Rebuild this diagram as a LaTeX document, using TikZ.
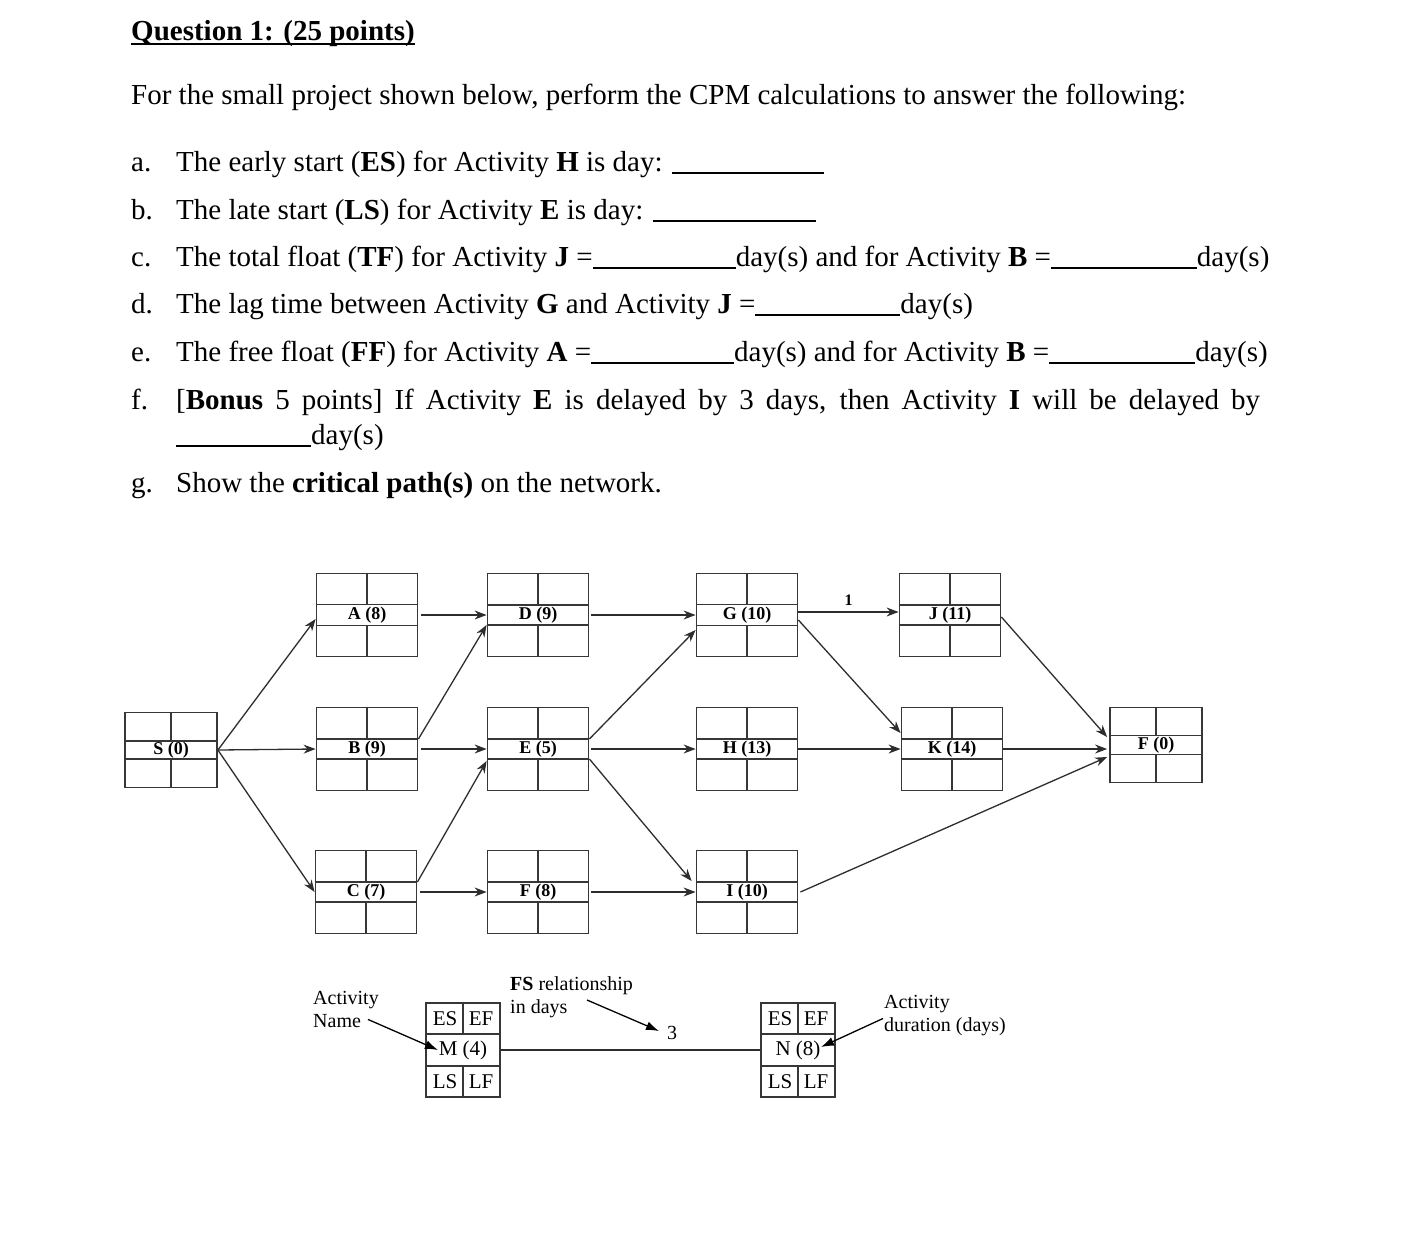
\documentclass[tikz,border=0pt]{standalone}
\usepackage{fontspec}
\setmainfont{Liberation Serif}
\usetikzlibrary{positioning,calc,arrows.meta}
\definecolor{BoxGray}{RGB}{55,55,55}
\definecolor{LineGray}{RGB}{45,45,45}
\newcommand{\qfont}{\fontsize{29}{35}\selectfont}
\newcommand{\ansline}[1]{\rule[-3pt]{#1pt}{1.8pt}}
\tikzset{
	act/.style={draw=BoxGray,line width=1.8pt,minimum width=101pt,minimum height=83pt,
		inner sep=0pt,font=\fontsize{18}{20}\selectfont\bfseries},
	term/.style={act,minimum width=92pt,minimum height=75pt},
	key/.style={draw=BoxGray,line width=1.5pt,minimum width=74pt,minimum height=94pt,
		inner sep=0pt,font=\fontsize{21}{24}\selectfont},
	cell/.style={draw=BoxGray,line width=1.6pt},
	cellt/.style={inner sep=0pt,font=\fontsize{21}{24}\selectfont},
	link/.style={draw=LineGray,line width=1.3pt,-{Stealth[length=12pt,width=9pt]}},
	pointer/.style={draw=black,line width=1.3pt,-{Latex[length=13pt,width=9pt]}},
	note/.style={font=\fontsize{20}{23}\selectfont,align=left,inner sep=0pt},
	item/.style={anchor=base west,inner sep=0pt,font=\qfont},
}

\begin{document}
\begin{tikzpicture}[x=1pt,y=-1pt]
	\useasboundingbox (0,0) rectangle (1413,1232);
	% question text
	\node[item,font=\qfont\bfseries] (title) at (131,40) {Question 1: (25 points)};
	\draw[line width=2pt] ([yshift=-4pt]title.base west) -- ([yshift=-4pt]title.base east);
	\node[item] (intro) at (131,104) {For the small project shown below, perform the CPM calculations to answer the following:};
	\node[item] (qa) at (131,171) {\makebox[45pt][l]{a.}The early start (\textbf{ES}) for Activity \textbf{H} is day: \ansline{152}};
	\node[item] (qb) at (131,219) {\makebox[45pt][l]{b.}The late start (\textbf{LS}) for Activity \textbf{E} is day: \ansline{163}};
	\node[item] (qc) at (131,266) {\makebox[45pt][l]{c.}The total float (\textbf{TF}) for Activity \textbf{J} =\ansline{143}day(s) and for Activity \textbf{B} =\ansline{146}day(s)};
	\node[item] (qd) at (131,313) {\makebox[45pt][l]{d.}The lag time between Activity \textbf{G} and Activity \textbf{J} =\ansline{145}day(s)};
	\node[item] (qe) at (131,361) {\makebox[45pt][l]{e.}The free float (\textbf{FF}) for Activity \textbf{A} =\ansline{143}day(s) and for Activity \textbf{B} =\ansline{146}day(s)};
	\node[item] (qf) at (131,409) {\makebox[45pt][l]{f.}\makebox[1084pt][s]{[\textbf{Bonus} 5 points] If Activity \textbf{E} is delayed by 3 days, then Activity \textbf{I} will be delayed by}};
	\node[item] (qf2) at (176,444) {\ansline{135}day(s)};
	\node[item] (qg) at (131,492) {\makebox[45pt][l]{g.}Show the \textbf{critical path(s)} on the network.};

	% network
	\node[term] (S) at (171,750) {S (0)};
	\node[act] (A) at (367,615) {A (8)};
	\node[act] (B) at (367,749) {B (9)};
	\node[act] (C) at (366,892) {C (7)};
	\node[act] (D) at (538,615) {D (9)};
	\node[act] (E) at (538,749) {E (5)};
	\node[act] (F) at (538,892) {F (8)};
	\node[act] (G) at (747,615) {G (10)};
	\node[act] (H) at (747,749) {H (13)};
	\node[act] (I) at (747,892) {I (10)};
	\node[act] (J) at (950,615) {J (11)};
	\node[act] (K) at (952,749) {K (14)};
	\node[term] (Fin) at (1156,745) {F (0)};
	\foreach \n/\h in {S/9,A/10.5,B/10,C/10,D/10,E/10,F/10,G/10.5,H/10,I/10,J/10,K/10,Fin/9.5}{
		\draw[cell] ([yshift=\h pt]\n.west) -- ([yshift=\h pt]\n.east)
			([yshift=-\h pt]\n.west) -- ([yshift=-\h pt]\n.east)
			(\n.north) -- ([yshift=\h pt]\n.center)
			([yshift=-\h pt]\n.center) -- (\n.south);
	}

	\draw[link] (S.east) -- ([yshift=-4pt]A.west);
	\draw[link] (S.east) -- (B.west);
	\draw[link] (S.east) -- (C.west);
	\draw[link] ([xshift=3pt]A.east) -- (D.west);
	\draw[link] ([yshift=10pt]B.east) -- ([yshift=-10pt]D.west);
	\draw[link] ([xshift=3pt]B.east) -- (E.west);
	\draw[link] ([yshift=10pt]C.east) -- ([yshift=-12pt]E.west);
	\draw[link] ([xshift=3pt]C.east) -- (F.west);
	\draw[link] ([xshift=2pt]D.east) -- (G.west);
	\draw[link] ([yshift=10pt]E.east) -- ([yshift=-15pt]G.west);
	\draw[link] ([xshift=2pt]E.east) -- (H.west);
	\draw[link] ([yshift=-10pt]E.east) -- ([xshift=-4pt,yshift=11pt]I.west);
	\draw[link] ([xshift=2pt]F.east) -- (I.west);
	\draw[link] ([yshift=3pt]G.east) -- node[above=3pt,font=\fontsize{16}{18}\selectfont\bfseries] (lagGJ) {1} ([yshift=3pt]J.west);
	\draw[link] ([yshift=-5pt]G.east) -- ([yshift=16pt]K.west);
	\draw[link] (H.east) -- (K.west);
	\draw[link] ([yshift=-2pt]J.east) -- ([xshift=-2pt,yshift=8pt]Fin.west);
	\draw[link] (K.east) -- ([xshift=-2pt]K.east -| Fin.west);
	\draw[link] ([xshift=2pt]I.east) -- ([xshift=-2pt,yshift=-12pt]Fin.west);

	% legend
	\node[key] (M) at (463,1050) {M (4)};
	\node[key] (N) at (798,1050) {N (8)};
	\foreach \k in {M,N}{
		\draw[cell] ([yshift=16pt]\k.west) -- ([yshift=16pt]\k.east)
			([yshift=-16pt]\k.west) -- ([yshift=-16pt]\k.east)
			(\k.north) -- ([yshift=16pt]\k.center)
			([yshift=-16pt]\k.center) -- (\k.south);
		\node[cellt] (\k-es) at ([xshift=-18pt,yshift=31pt]\k.center) {ES};
		\node[cellt] (\k-ef) at ([xshift=18pt,yshift=31pt]\k.center) {EF};
		\node[cellt] (\k-ls) at ([xshift=-18pt,yshift=-32pt]\k.center) {LS};
		\node[cellt] (\k-lf) at ([xshift=18pt,yshift=-32pt]\k.center) {LF};
	}
	\draw[draw=LineGray,line width=1.2pt] (M.east) -- (N.west);
	\node[note] (lagnum) at (672,1033) {3};
	\node[note,anchor=north west] (fsnote) at (510,976) {\textbf{FS} relationship\\in days};
	\node[note,anchor=north west] (namenote) at (313,991) {Activity\\Name};
	\node[note,anchor=north west] (durnote) at (884,995) {Activity\\duration (days)};
	\coordinate (fstip) at (659,1031);
	\coordinate (nametip) at (438,1050);
	\coordinate (durtip) at (821,1047);
	\draw[pointer] (587,1000) -- (fstip);
	\draw[pointer] ([xshift=-11pt,yshift=-10pt]namenote.east) -- (nametip);
	\draw[pointer] ([xshift=-1pt,yshift=-3pt]durnote.west) -- (durtip);
\end{tikzpicture}
\end{document}
